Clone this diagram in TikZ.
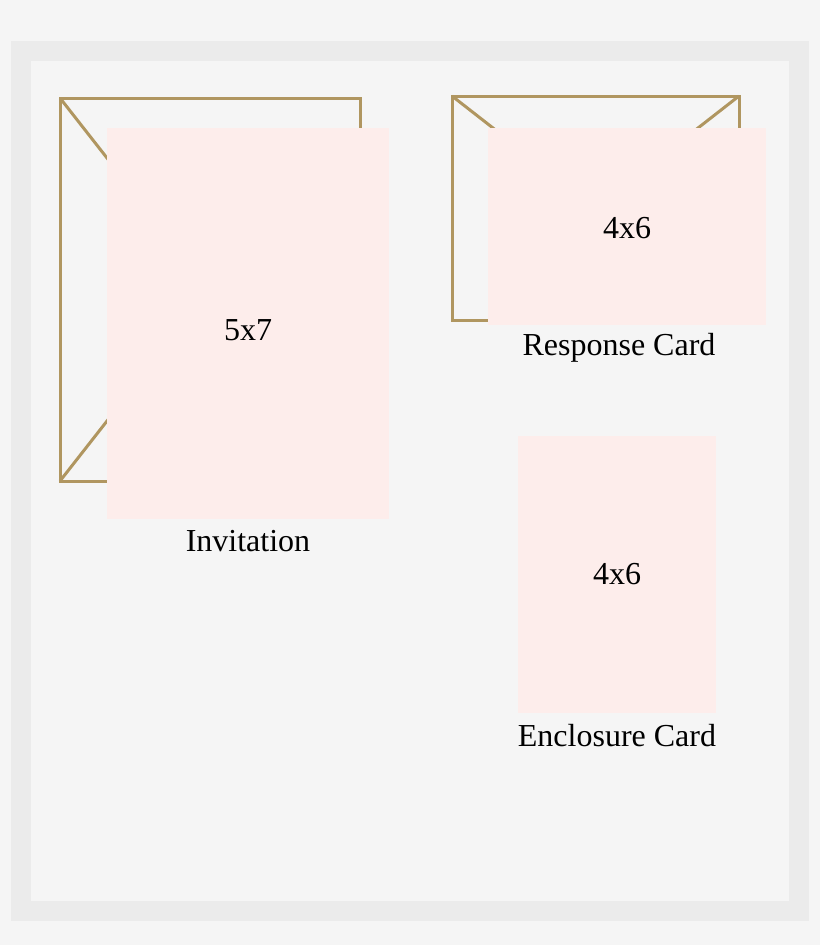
\documentclass[tikz,border=0pt]{standalone}
\usepackage{fontspec}
\setmainfont{Liberation Serif}
\usetikzlibrary{positioning}
\definecolor{paper}{HTML}{F5F5F5}
\definecolor{framegray}{HTML}{EBEBEB}
\definecolor{blush}{HTML}{FDEDEB}
\definecolor{gold}{HTML}{B09660}

\begin{document}
\begin{tikzpicture}[x=1pt, y=-1pt,
		card/.style={fill=blush, inner sep=0pt, font=\fontsize{32}{32}\selectfont},
		envelope/.style={draw=gold, line width=3pt},
		caption/.style={inner sep=0pt, anchor=base, font=\fontsize{32}{32}\selectfont}]
		% page and frame
		\fill[paper] (0,0) rectangle (820,945);
		\fill[framegray] (11,41) rectangle (809,921);
		\fill[paper] (31,61) rectangle (789,901);
		
		% envelopes
		\coordinate (InvFlap) at (210,289.5);
		\coordinate (RespFlap) at (595.5,208);
		\draw[envelope] (60,98) rectangle (360,481);
		\draw[envelope] (60,98) -- (InvFlap) (60,481) -- (InvFlap);
		\draw[envelope] (452,96) rectangle (739,320);
		\draw[envelope] (452,96) -- (RespFlap) (739,96) -- (RespFlap);
		
		% cards
		\node[card, minimum width=282pt, minimum height=391pt]	(Invitation) at (248,323.5) {\raisebox{-7pt}[\height][\depth]{5x7}};
		\node[card, minimum width=278pt, minimum height=197pt]	(Response) at (627,226.5) {\raisebox{-2pt}[\height][\depth]{4x6}};
		\node[card, minimum width=198pt, minimum height=277pt]	(Enclosure) at (617,574.5) {4x6};
		
		% captions
		\node[caption]	(InvitationText) at ([yshift=-32pt]Invitation.south) {Invitation};
		\node[caption]	(ResponseText) at ([xshift=-8pt, yshift=-30pt]Response.south) {Response Card};
		\node[caption]	(EnclosureText) at ([yshift=-33pt]Enclosure.south) {Enclosure Card};
	\end{tikzpicture}
\end{document}
